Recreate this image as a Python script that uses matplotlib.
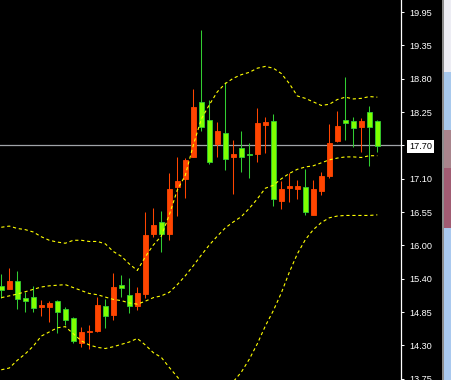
import numpy as np
import matplotlib.pyplot as plt

# candle data (price), one entry per bar, left to right
opens = [15.31, 15.27, 15.40, 15.11, 15.13, 14.96, 14.96, 15.06, 14.93, 14.78,
         14.36, 14.54, 14.56, 14.98, 14.83, 15.33, 15.17, 14.98, 15.18, 16.20,
         16.40, 16.20, 16.99, 17.13, 17.50, 18.43, 18.12, 17.72, 17.90, 17.49,
         17.65, 17.55, 17.55, 18.04, 18.11, 16.76, 16.98, 16.96, 16.99, 16.52,
         16.92, 17.17, 17.77, 18.12, 18.11, 18.01, 18.26, 18.11]
highs = [15.52, 15.62, 15.57, 15.21, 15.32, 15.08, 15.06, 15.08, 14.96, 14.79,
         14.62, 14.66, 15.13, 15.10, 15.54, 15.50, 15.45, 15.30, 16.57, 16.64,
         16.59, 17.23, 17.50, 17.48, 18.65, 19.65, 18.46, 18.09, 18.77, 17.79,
         17.94, 17.74, 18.33, 18.17, 18.23, 17.10, 17.22, 17.11, 17.30, 17.11,
         17.24, 18.06, 18.28, 18.85, 18.17, 18.16, 18.36, 18.12]
lows = [15.11, 15.26, 14.93, 14.87, 14.87, 14.81, 14.71, 14.53, 14.65, 14.36,
        14.29, 14.25, 14.54, 14.61, 14.75, 15.13, 14.86, 14.91, 15.11, 16.15,
        15.90, 16.09, 16.50, 16.81, 17.50, 17.94, 17.38, 17.50, 17.27, 16.88,
        17.25, 17.15, 17.42, 17.57, 16.67, 16.62, 16.73, 16.79, 16.51, 16.52,
        16.86, 17.15, 17.76, 17.79, 17.67, 17.59, 17.35, 17.59]
closes = [15.25, 15.40, 15.09, 15.06, 14.95, 15.00, 15.03, 14.88, 14.75, 14.39,
          14.54, 14.56, 15.00, 14.81, 15.30, 15.29, 14.98, 15.20, 16.18, 16.35,
          16.20, 16.96, 17.09, 17.45, 18.34, 18.01, 17.41, 17.94, 17.47, 17.55,
          17.50, 17.54, 18.07, 18.09, 16.78, 16.95, 17.00, 17.01, 16.56, 16.95,
          17.17, 17.74, 18.02, 18.07, 17.99, 18.11, 18.01, 17.69]

# bollinger bands as shown on the chart
upper_band = [16.31, 16.33, 16.29, 16.27, 16.23, 16.15, 16.09, 16.06, 16.04, 16.09,
              16.09, 16.07, 16.07, 16.03, 15.90, 15.82, 15.69, 15.58, 15.81, 16.01,
              16.16, 16.52, 16.94, 17.19, 17.70, 18.14, 18.38, 18.60, 18.74, 18.83,
              18.89, 18.93, 19.00, 19.03, 19.00, 18.91, 18.74, 18.53, 18.49, 18.43,
              18.37, 18.39, 18.47, 18.51, 18.48, 18.49, 18.52, 18.51]
middle_band = [15.12, 15.15, 15.18, 15.22, 15.26, 15.30, 15.32, 15.33, 15.34, 15.29,
               15.24, 15.19, 15.17, 15.13, 15.09, 15.07, 15.03, 15.01, 15.06, 15.12,
               15.15, 15.21, 15.34, 15.49, 15.66, 15.84, 16.01, 16.16, 16.30, 16.40,
               16.49, 16.63, 16.79, 16.97, 17.02, 17.13, 17.22, 17.29, 17.33, 17.35,
               17.40, 17.45, 17.48, 17.50, 17.50, 17.49, 17.52, 17.52]
lower_band = [13.90, 13.93, 14.06, 14.17, 14.30, 14.47, 14.54, 14.61, 14.63, 14.51,
              14.39, 14.32, 14.28, 14.26, 14.29, 14.33, 14.37, 14.43, 14.32, 14.19,
              14.11, 13.94, 13.78, 13.62, 13.50, 13.42, 13.40, 13.45, 13.58, 13.70,
              13.86, 14.08, 14.34, 14.64, 14.90, 15.20, 15.55, 15.86, 16.10, 16.27,
              16.39, 16.47, 16.50, 16.51, 16.51, 16.51, 16.51, 16.52]

last_price = 17.70
tick_labels = ["19.95", "19.35", "18.80", "18.25", "17.70", "17.10",
               "16.55", "16.00", "15.40", "14.85", "14.30", "13.75"]

UP_COLOR = "#FF4500"
DOWN_FACE = "#7FFF00"
DOWN_EDGE = "#32CD32"

plt.rcParams["font.family"] = ["Liberation Sans", "DejaVu Sans"]
plt.rcParams["lines.scale_dashes"] = False

W, H = 452, 380
fig = plt.figure(figsize=(W / 100, H / 100), dpi=100, facecolor="black")
ax = fig.add_axes([0, 0, 401.5 / W, 1])
ax.set_facecolor("black")

x = np.arange(len(opens))
o = np.array(opens)
c = np.array(closes)
up = c >= o

# current price line sits behind the candles
ax.axhline(last_price, color="#A0A4A8", lw=0.9, zorder=1)

# wicks
ax.vlines(x[up], np.array(lows)[up], np.array(highs)[up], color=UP_COLOR, lw=0.75, zorder=2)
ax.vlines(x[~up], np.array(lows)[~up], np.array(highs)[~up], color=DOWN_EDGE, lw=0.75, zorder=2)

# bodies
body_lo = np.minimum(o, c)
body_h = np.maximum(np.abs(c - o), 0.012)
ax.bar(x[up], body_h[up], bottom=body_lo[up], width=0.6,
       color=UP_COLOR, edgecolor=UP_COLOR, lw=0.6, zorder=3)
ax.bar(x[~up], body_h[~up], bottom=body_lo[~up], width=0.6,
       color=DOWN_FACE, edgecolor=DOWN_EDGE, lw=0.6, zorder=3)

# bands
for band in (upper_band, middle_band, lower_band):
    ax.plot(x, band, color="#FFFF00", lw=0.8, linestyle=(0, (2.3, 2.0)), zorder=4)

ax.set_xlim(-0.16, 50.02)
ax.set_ylim(13.7275, 20.153)

ticks = np.linspace(19.95, 13.75, len(tick_labels))
ax.set_yticks(ticks)
ax.set_yticklabels(tick_labels)
ax.set_xticks([])
ax.yaxis.tick_right()
ax.tick_params(axis="y", colors="white", labelsize=6.6, length=2.5, width=0.75, pad=3)

for side in ("top", "left", "bottom"):
    ax.spines[side].set_visible(False)
ax.spines["right"].set_color("white")
ax.spines["right"].set_linewidth(0.9)

for lbl in ax.get_yticklabels():
    if lbl.get_text() == f"{last_price:.2f}":
        lbl.set_color("black")
        lbl.set_bbox(dict(facecolor="white", edgecolor="none", pad=1.3))

# window scrollbar strip at the right edge of the screenshot
strip = fig.add_axes([442 / W, 0, 10 / W, 1])
strip.axis("off")
img = np.zeros((H, 10, 3))
segments = [(0, 72, (0.93, 0.93, 0.96)), (72, 130, (0.66, 0.79, 0.93)),
            (130, 168, (0.66, 0.52, 0.55)), (168, 228, (0.63, 0.36, 0.45)),
            (228, H, (0.67, 0.79, 0.94))]
for y0, y1, col in segments:
    img[y0:y1, :, :] = col
img[:, :2, :] = (0.55, 0.55, 0.55)
strip.imshow(img, aspect="auto", interpolation="nearest")

fig.savefig("out.png", dpi=100, facecolor="black")
